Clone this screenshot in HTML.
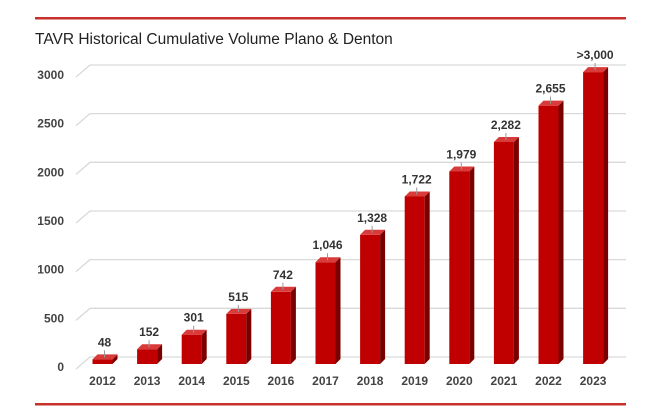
<!DOCTYPE html>
<html><head><meta charset="utf-8"><style>
body{margin:0;background:#fff;}
svg{display:block;font-family:"Liberation Sans",sans-serif;}
</style></head><body>
<svg width="650" height="415" viewBox="0 0 650 415">
<rect x="35" y="17" width="591" height="2.5" fill="#c8312b"/>
<rect x="35" y="403" width="591" height="2.5" fill="#c8312b"/>
<text x="35" y="44" font-size="15.5" fill="#222">TAVR Historical Cumulative Volume Plano &amp; Denton</text>
<g stroke="#d9d9d9" stroke-width="1.3" fill="none" id="grid"></g>
<g id="bars"></g>
<g font-size="12" font-weight="bold" fill="#444" text-anchor="end" id="yl"></g>
</svg>
<script>
const ns="http://www.w3.org/2000/svg";
function el(p,t,a,txt){const e=document.createElementNS(ns,t);for(const k in a)e.setAttribute(k,a[k]);if(txt!=null)e.textContent=txt;document.getElementById(p).appendChild(e);return e;}
for(let i=0;i<=6;i++){const y=357-i*48.67;
 el('grid','polyline',{points:`76,${y+12} 90,${y} 626,${y}`});
 el('yl','text',{x:64,y:y+14},String(i*500));}
const vals=[48,152,301,515,742,1046,1328,1722,1979,2282,2655,3000];
const labs=['48','152','301','515','742','1,046','1,328','1,722','1,979','2,282','2,655','>3,000'];
const base=364,sc=0.0973,w=20,dx=5,dy=5;
vals.forEach((v,i)=>{const x=92.5+i*44.6,t=base-v*sc;
 el('bars','rect',{x:x,y:t,width:w,height:base-t,fill:'#c00000'});
 el('bars','polygon',{points:`${x+w},${t} ${x+w+dx},${t-dy} ${x+w+dx},${base-dy} ${x+w},${base}`,fill:'#7a0000'});
 el('bars','polygon',{points:`${x},${t} ${x+dx},${t-dy} ${x+w+dx},${t-dy} ${x+w},${t}`,fill:'#d93a3a'});
 el('bars','line',{x1:x+w/2+2,y1:t-2,x2:x+w/2+2,y2:t-9,stroke:'#999','stroke-width':1});
 el('bars','text',{x:x+w/2+2,y:t-13,'font-size':12,'font-weight':'bold',fill:'#333','text-anchor':'middle'},labs[i]);
 el('bars','text',{x:x+w/2,y:385,'font-size':12,'font-weight':'bold',fill:'#444','text-anchor':'middle'},String(2012+i));
});
</script>
</body></html>
